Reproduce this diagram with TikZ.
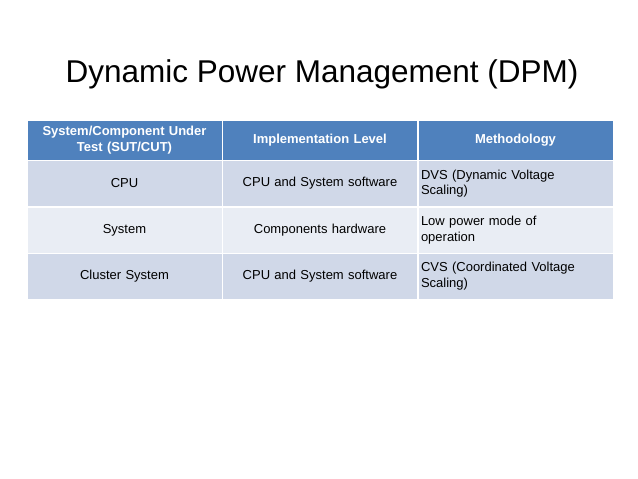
\documentclass[tikz,border=0pt]{standalone}
\usepackage{fontspec}
\setmainfont{Liberation Sans}
\definecolor{hdrblue}{HTML}{4F81BD}
\definecolor{rowdark}{HTML}{D0D8E8}
\definecolor{rowlight}{HTML}{E9EDF4}
\tikzset{
    cell/.style={draw=white, line width=1pt, minimum width=195pt, inner sep=3pt,
        font=\fontsize{13}{15.5}\selectfont, align=center, text width=189pt},
    hdrcell/.style={cell, fill=hdrblue, text=white, minimum height=40pt, font=\fontsize{13}{15.5}\selectfont\bfseries},
    darkcell/.style={cell, fill=rowdark, minimum height=46pt},
    lightcell/.style={cell, fill=rowlight, minimum height=46pt},
    leftcell/.style={align=left},
}
\begin{document}
\begin{tikzpicture}[x=1pt, y=-1pt]
    \useasboundingbox[fill=white] (0,0) rectangle (638,479);
    \node (title) at (322,74) {\fontsize{31.5}{34}\selectfont Dynamic Power Management (DPM)};

    % header row
    \node[hdrcell] (h1) at (124.5,140) {System/Component Under\\Test (SUT/CUT)};
    \node[hdrcell] (h2) at (320,140) {Implementation Level};
    \node[hdrcell] (h3) at (515.5,140) {Methodology};

    % body rows
    \node[darkcell] (r1a) at (124.5,183.5) {CPU};
    \node[darkcell] (r1b) at (320,183.5) {CPU and System software};
    \node[darkcell, leftcell] (r1c) at (515.5,183.5) {DVS (Dynamic Voltage\\Scaling)};

    \node[lightcell] (r2a) at (124.5,230) {System};
    \node[lightcell] (r2b) at (320,230) {Components hardware};
    \node[lightcell, leftcell] (r2c) at (515.5,230) {Low power mode of\\operation};

    \node[darkcell] (r3a) at (124.5,276) {Cluster System};
    \node[darkcell] (r3b) at (320,276) {CPU and System software};
    \node[darkcell, leftcell] (r3c) at (515.5,276) {CVS (Coordinated Voltage\\Scaling)};
\end{tikzpicture}
\end{document}
